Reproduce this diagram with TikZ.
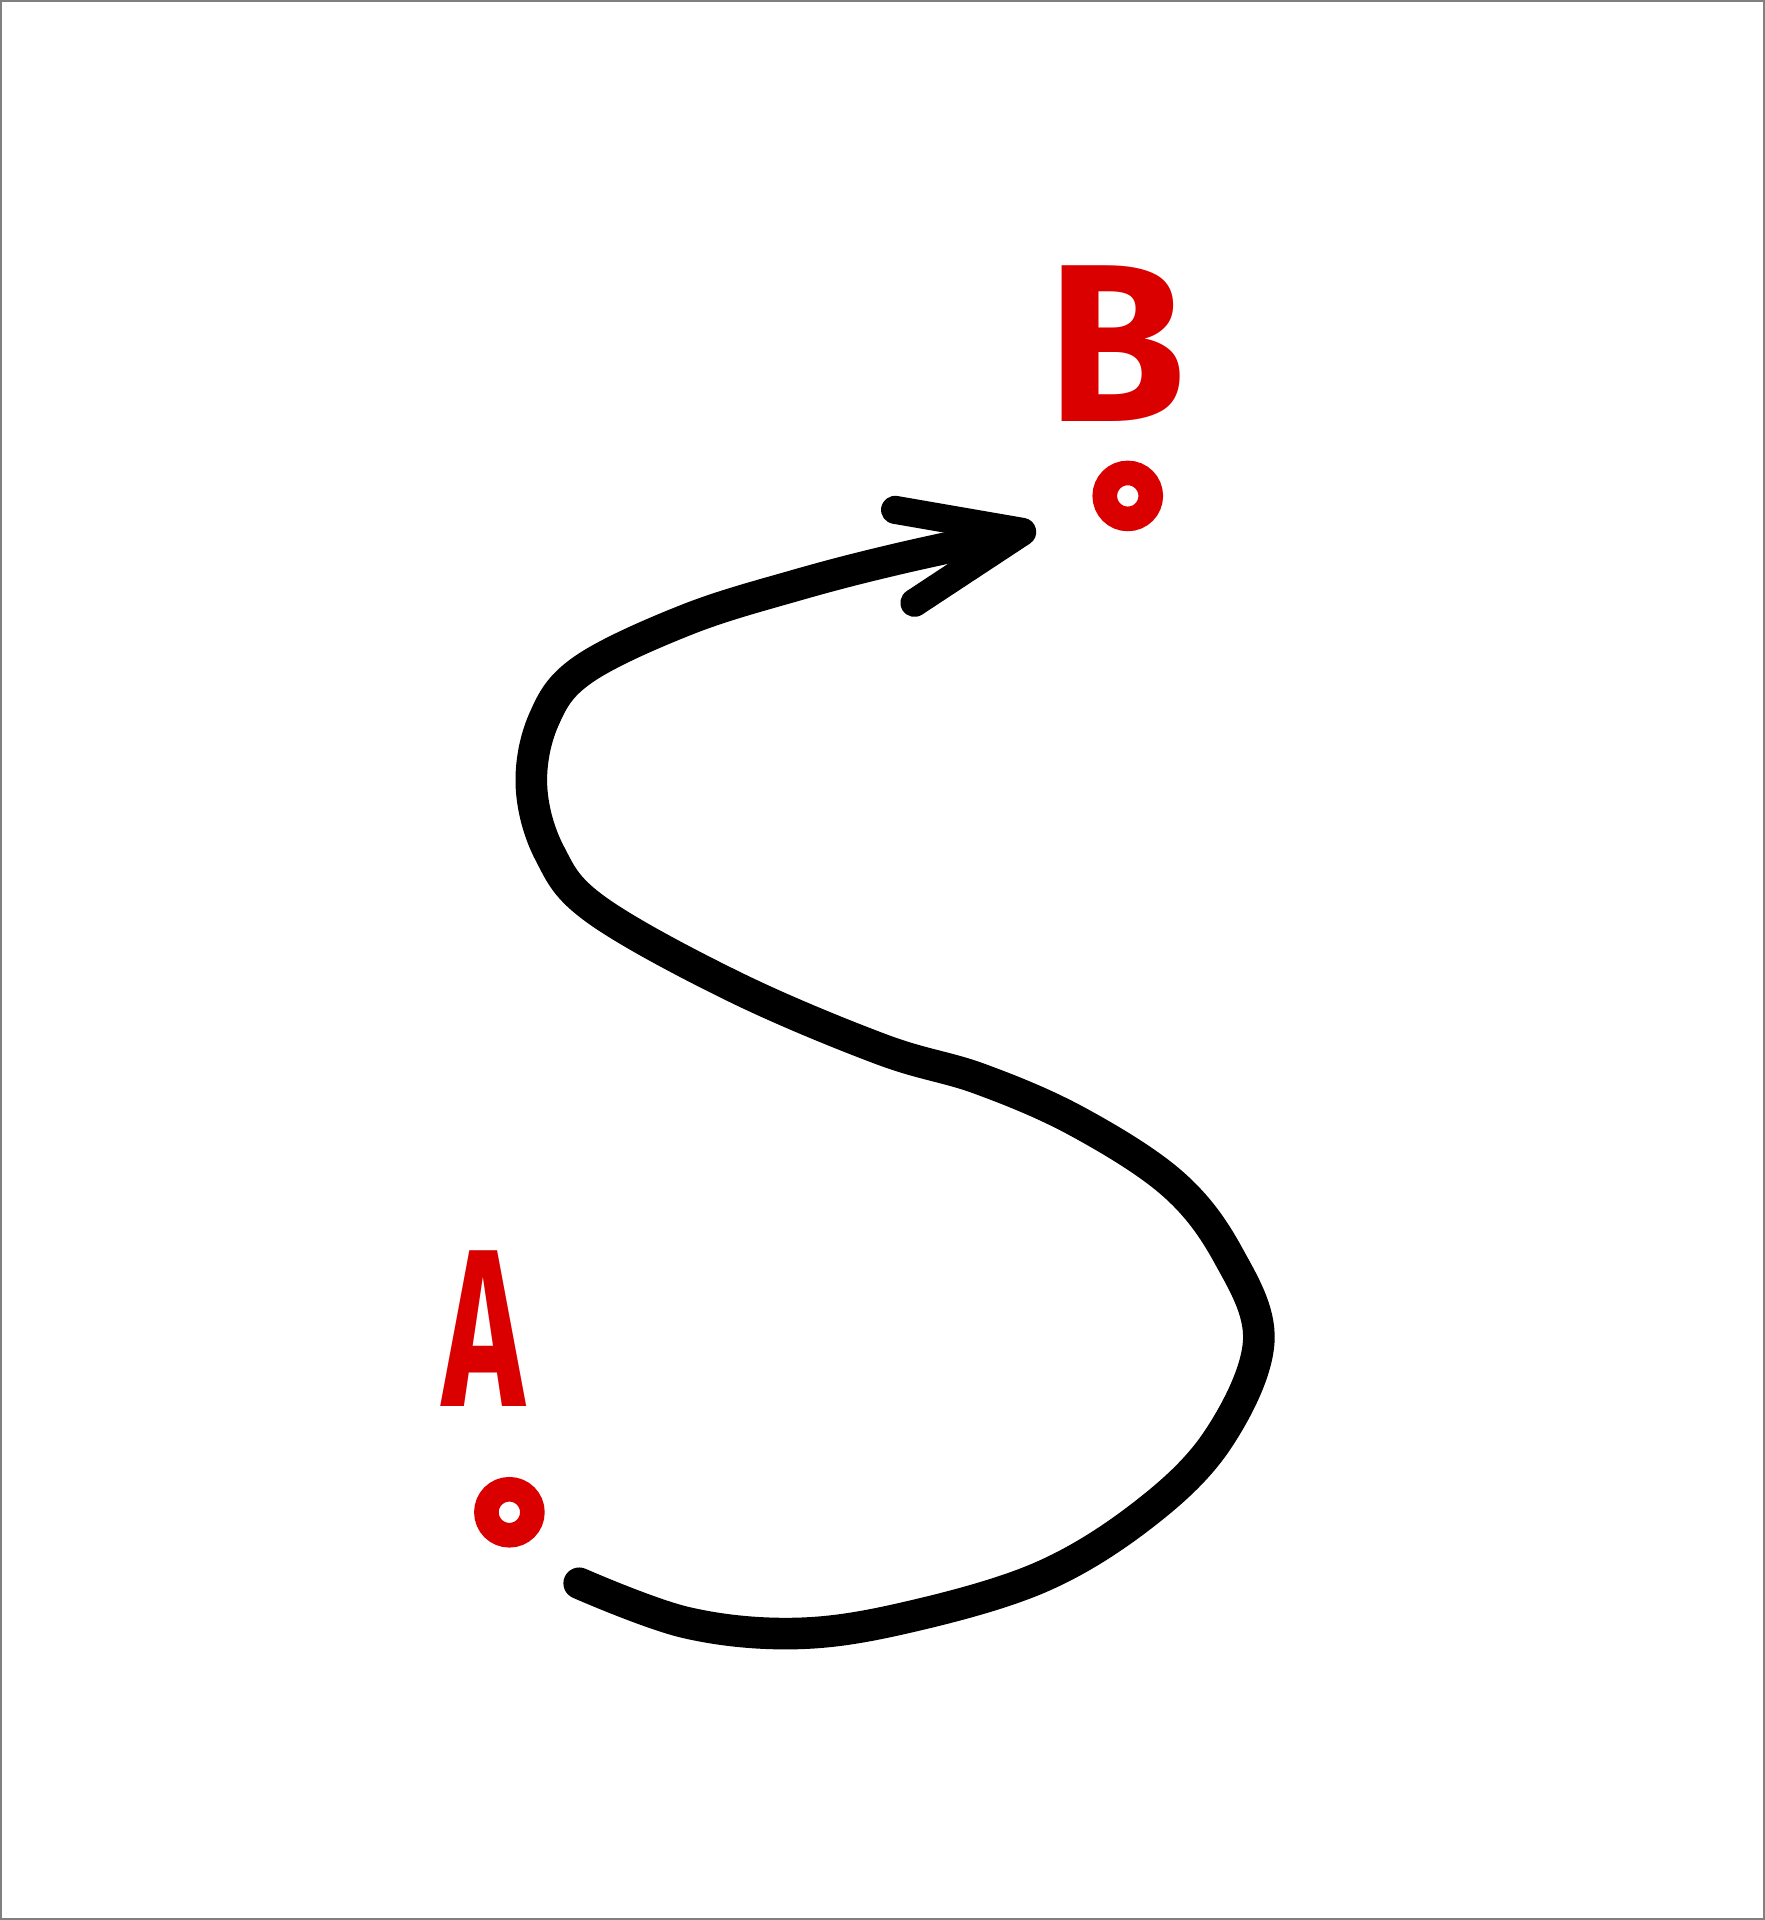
\documentclass[tikz,border=0pt]{standalone}
\usepackage{fontspec}
\setmainfont{Fira Sans}
\usepackage{xcolor}
\usetikzlibrary{arrows.meta}

\definecolor{markred}{RGB}{218,0,0}
\tikzset{
  letter/.style={text=markred, font=\bfseries\fontsize{64}{64}\selectfont, inner sep=0pt},
  spot/.style={draw=markred, line width=7pt, circle, minimum size=0.46cm, inner sep=0pt},
  route/.style={line width=9pt, line cap=round, line join=round,
    -{Straight Barb[length=12mm, width=9.5mm, line width=8pt, round]}}
}

\begin{document}
\begin{tikzpicture}[x=0.012248cm, y=-0.012248cm]
    % Frame
    \useasboundingbox (0,0) rectangle (1441,1568);
    \draw[gray, line width=0.6pt] (0.5,0.5) rectangle (1440.5,1567.5);

    % Points A and B
    \node[letter, xscale=0.62] (labA) at (395,1085) {A};
    \node[spot] (dotA) at (416,1235) {};
    \node[letter] (labB) at (912,281) {B};
    \node[spot] (dotB) at (921,405) {};

    % The winding route
    \coordinate (start) at (473,1293);
    \coordinate (tip) at (846,432);
    \draw[route] plot[smooth, tension=0.6] coordinates {
        (start) (560,1325) (650,1334) (740,1321) (850,1288) (935,1236)
        (995,1175) (1028,1095) (1003,1025) (958,967) (880,916)
        (800,881) (720,857) (600,806) (487,743) (449,697) (434,642)
        (444,588) (476,547) (561,506) (650,478) (735,456) (tip)};
\end{tikzpicture}
\end{document}
